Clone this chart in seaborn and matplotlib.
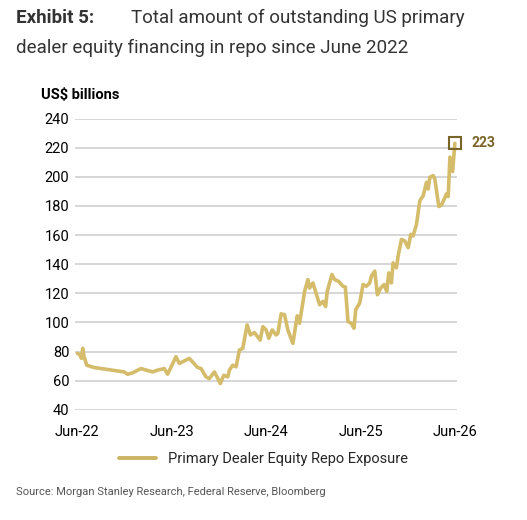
import matplotlib
matplotlib.use("Agg")
import matplotlib.pyplot as plt
import seaborn as sns
import pandas as pd
import numpy as np

months = [0,0.34,0.51,0.68,0.85,1.19,2.12,5.95,6.37,7.01,8.07,9.56,10.2,11.05,11.47,12.53,12.96,14.23,15.29,15.72,
16.35,16.78,17.42,18.18,18.61,19.12,19.33,19.75,20.18,20.6,21.03,21.58,22.0,22.51,23.24,23.58,24.0,24.34,24.77,25.28,
25.49,25.91,26.34,26.76,27.4,27.95,28.25,28.89,29.31,29.52,29.95,30.8,31.22,31.56,31.77,32.37,32.71,33.22,33.77,34.07,
34.41,34.83,35.17,35.39,35.9,36.32,36.75,37.17,37.38,37.81,38.15,38.57,39.0,39.34,39.59,39.93,40.14,40.57,40.78,41.21,
41.63,42.06,42.39,42.69,43.12,43.54,43.97,44.39,44.6,44.82,45.24,45.45,45.96,46.3,46.94,47.15,47.37,47.71,48.0]
values = [78.7,77.6,75.3,82.2,76.4,70.6,69.0,66.0,64.4,65.3,68.3,66.0,67.2,68.3,64.4,76.4,71.8,75.3,69.0,68.3,
62.6,61.4,66.0,58.0,63.7,62.6,67.2,70.6,69.5,81.0,82.2,98.3,91.4,93.0,87.9,97.1,94.8,89.1,94.8,91.4,
92.5,105.9,105.2,94.8,85.6,104.5,99.4,121.3,129.4,123.6,127.1,112.1,114.4,110.9,121.3,132.9,129.4,128.2,124.8,124.3,
100.6,99.4,96.0,108.7,113.3,126.0,124.8,127.1,131.7,135.2,119.0,123.6,126.0,121.3,134.0,127.1,140.9,137.5,145.5,157.0,
155.9,151.3,160.5,159.4,167.4,183.5,187.0,196.2,191.6,199.7,200.8,198.5,179.6,180.6,188.2,186.5,213.5,203.6,223.0]
tick_labels = ["Jun-22","Jun-23","Jun-24","Jun-25","Jun-26"]
series_name = "Primary Dealer Equity Repo Exposure"

start = pd.Timestamp("2022-06-01")
dates = [start + pd.Timedelta(days=m*30.44) for m in months]
df = pd.DataFrame({"date": dates, "value": values, "series": series_name})

sns.set_theme(style="white")
plt.rcParams["font.family"] = ["Roboto", "DejaVu Sans"]
gold = "#D4BC6A"
dark = "#7A6428"

fig = plt.figure(figsize=(5.27, 5.20), dpi=100)
ax = fig.add_axes([0.142, 0.212, 0.725, 0.56])
sns.lineplot(data=df, x="date", y="value", hue="series", palette=[gold], linewidth=2.6, ax=ax)
ax.plot(df["date"].iloc[-1], values[-1], marker="s", markersize=8, markerfacecolor="none",
        markeredgecolor=dark, markeredgewidth=1.5, clip_on=False, zorder=5)
ax.annotate(f"{values[-1]:.0f}", (df["date"].iloc[-1], values[-1]), xytext=(12, 0),
            textcoords="offset points", va="center", fontsize=10, fontweight="bold", color=dark)

ax.set_ylim(40, 240)
ax.set_yticks(range(40, 241, 20))
ticks = [pd.Timestamp(f"20{y}-06-01") for y in range(22, 27)]
ax.set_xticks(ticks)
ax.set_xticklabels(tick_labels)
ax.set_xlim(start - pd.Timedelta(days=10), ticks[-1] + pd.Timedelta(days=8))
ax.grid(axis="y", color="#CFCFCF", linewidth=1.2)
for s in ax.spines.values():
    s.set_visible(False)
ax.tick_params(axis="y", labelsize=10.5, colors="black", length=0, pad=4)
ax.tick_params(axis="x", labelsize=10.5, colors="black", length=0, pad=11)
ax.set_xlabel(""); ax.set_ylabel("")
ax.legend_.remove()

fig.text(0.077, 0.81, "US$ billions", fontsize=10.5, fontweight="bold", color="black")
fig.text(0.03, 0.955, "Exhibit 5:", fontsize=13.5, fontweight="bold", color="#333333")
fig.text(0.248, 0.955, "Total amount of outstanding US primary", fontsize=13.5, color="#333333")
fig.text(0.03, 0.898, "dealer equity financing in repo since June 2022", fontsize=13.5, color="#333333")

fig.legend(handles=[plt.Line2D([0], [0], color="#CDB463", linewidth=2.8)], labels=[series_name],
           loc="center", bbox_to_anchor=(0.5, 0.117), frameon=False, fontsize=10.5, handlelength=2.5)
fig.text(0.03, 0.048, "Source: Morgan Stanley Research, Federal Reserve, Bloomberg", fontsize=8, color="#555555")

fig.savefig("out.png", dpi=100)
